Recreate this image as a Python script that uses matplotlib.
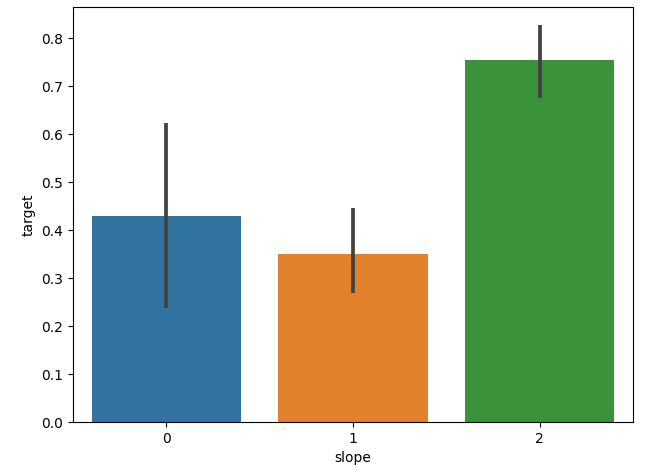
import matplotlib
matplotlib.use("Agg")
import matplotlib.pyplot as plt

categories = ["0", "1", "2"]
means = [0.429, 0.350, 0.754]
ci_low = [0.238, 0.269, 0.675]
ci_high = [0.624, 0.446, 0.828]
colors = ["#3274a1", "#e1812c", "#3a923a"]

fig = plt.figure(figsize=(6.49, 4.73), dpi=100)
ax = fig.add_axes([73/649, 1-422/473, 560/649, 415/473])
x = list(range(len(categories)))
ax.bar(x, means, width=0.8, color=colors)
for xi, lo, hi in zip(x, ci_low, ci_high):
    ax.plot([xi, xi], [lo, hi], color="#424242", lw=2.7, solid_capstyle="butt")
ax.set_xticks(x)
ax.set_xticklabels(categories)
ax.set_xlim(-0.5, 2.5)
ax.set_ylim(0, 0.865)
ax.set_xlabel("slope")
ax.set_ylabel("target")
fig.savefig("out.png", dpi=100)
